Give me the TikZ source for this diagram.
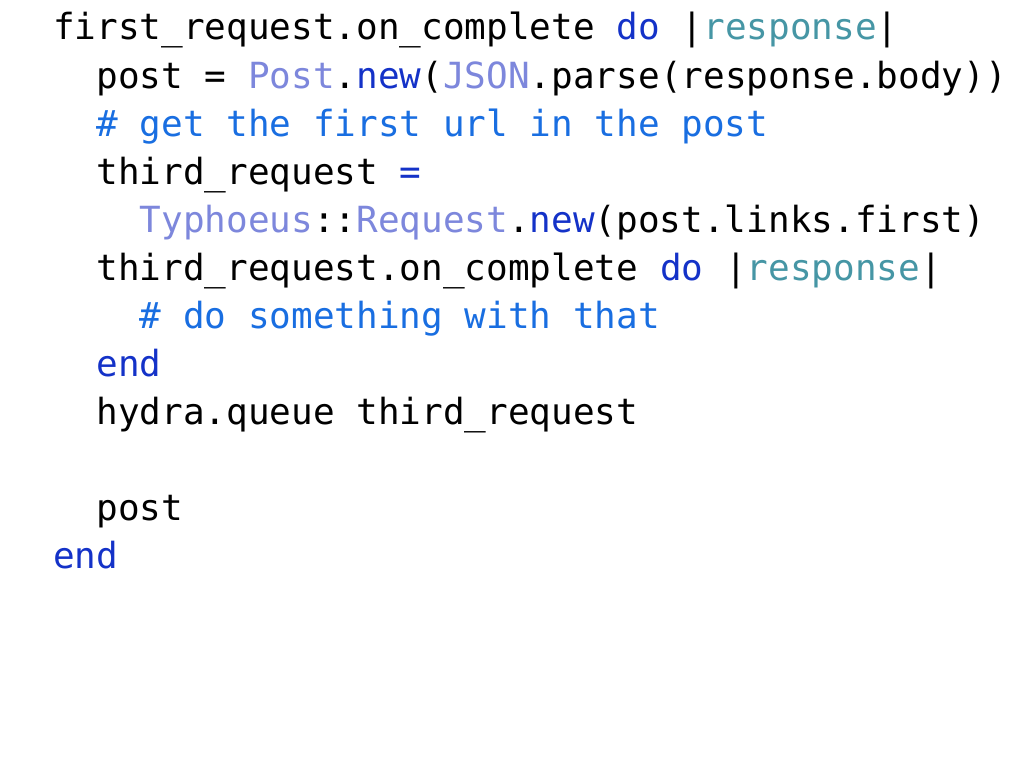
\documentclass[tikz,border=0pt]{standalone}
\usepackage{fontspec}
\setmonofont{DejaVu Sans Mono}
\definecolor{kw}{RGB}{20,50,200}
\definecolor{var}{RGB}{70,150,165}
\definecolor{cls}{RGB}{125,135,220}
\definecolor{cmt}{RGB}{25,110,225}
\newcommand{\K}[1]{\textcolor{kw}{#1}}
\newcommand{\V}[1]{\textcolor{var}{#1}}
\newcommand{\C}[1]{\textcolor{cls}{#1}}
\newcommand{\M}[1]{\textcolor{cmt}{#1}}
\begin{document}
\begin{tikzpicture}[x=1pt,y=-1pt,
  code/.style={anchor=base west,inner sep=0pt,font=\ttfamily\fontsize{36}{48}\selectfont}]
\useasboundingbox[fill=white] (0,0) rectangle (1024,768);
\def\cw{21.65}
\node[code] (l1) at (53,40) {first\_request.on\_complete \K{do} |\V{response}|};
\node[code] (l2) at (53+2*\cw,88) {post = \C{Post}.\K{new}(\C{JSON}.parse(response.body))};
\node[code] (l3) at (53+2*\cw,136) {\M{\# get the first url in the post}};
\node[code] (l4) at (53+2*\cw,184) {third\_request \K{=}};
\node[code] (l5) at (53+4*\cw,232) {\C{Typhoeus}::\C{Request}.\K{new}(post.links.first)};
\node[code] (l6) at (53+2*\cw,280) {third\_request.on\_complete \K{do} |\V{response}|};
\node[code] (l7) at (53+4*\cw,328) {\M{\# do something with that}};
\node[code] (l8) at (53+2*\cw,376) {\K{end}};
\node[code] (l9) at (53+2*\cw,424) {hydra.queue third\_request};
\node[code] (l10) at (53+2*\cw,520) {post};
\node[code] (l11) at (53,568) {\K{end}};
\end{tikzpicture}
\end{document}
